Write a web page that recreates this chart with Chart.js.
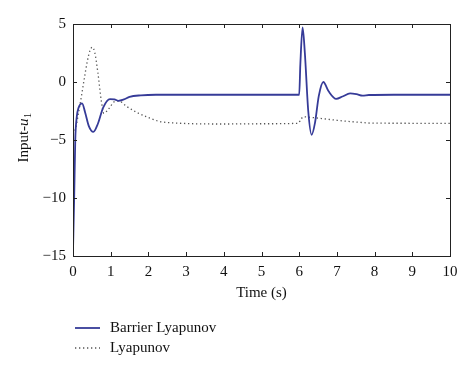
<!DOCTYPE html>
<html>
<head>
<meta charset="utf-8">
<script src="https://cdn.jsdelivr.net/npm/chart.js@4"></script>
<style>
  html, body { margin: 0; padding: 0; background: #fff; }
  #wrap { width: 474px; height: 374px; }
</style>
</head>
<body>
<div id="wrap"><canvas id="inputChart" width="474" height="374"></canvas></div>
<script>
// Barrier Lyapunov control input (solid)
const timeBarrier = [0, 0.03, 0.06, 0.1, 0.15, 0.24, 0.32, 0.42, 0.54, 0.66, 0.8, 0.98, 1.1, 1.2, 1.35, 1.5, 1.8, 2.2, 3, 4, 5, 6.0, 6.03, 6.09, 6.15, 6.24, 6.33, 6.42, 6.52, 6.64, 6.78, 6.98, 7.15, 7.35, 7.52, 7.68, 7.85, 8.5, 10];
const uBarrier = [-14.5, -10.2, -5, -3.0, -2.2, -1.85, -2.6, -3.8, -4.3, -3.6, -2.2, -1.47, -1.5, -1.62, -1.5, -1.28, -1.15, -1.1, -1.1, -1.1, -1.1, -1.1, 1.5, 4.7, 2.5, -2.5, -4.55, -3.5, -1.2, 0.0, -0.8, -1.45, -1.25, -0.98, -1.05, -1.18, -1.12, -1.1, -1.1];

// Lyapunov control input (dotted)
const timeLyap = [0, 0.07, 0.15, 0.22, 0.3, 0.38, 0.45, 0.51, 0.58, 0.66, 0.75, 0.82, 0.95, 1.1, 1.22, 1.42, 1.68, 1.95, 2.3, 2.8, 4, 5, 5.97, 6.05, 6.11, 6.3, 6.6, 7.0, 7.5, 8, 10];
const uLyap = [-4.5, -4.0, -2.6, -1.3, 0.3, 1.8, 2.7, 3.0, 2.5, 0.8, -1.6, -2.7, -2.3, -1.7, -1.65, -2.1, -2.6, -3.0, -3.4, -3.55, -3.62, -3.6, -3.56, -3.2, -3.0, -3.05, -3.15, -3.3, -3.45, -3.55, -3.56];

const xTicks = [0, 1, 2, 3, 4, 5, 6, 7, 8, 9, 10];
const yTicks = [-15, -10, -5, 0, 5];
const seriesNames = ['Barrier Lyapunov', 'Lyapunov'];

const serif = '"Liberation Serif", "DejaVu Serif", serif';
const fontSize = 15;
const blue = '#363b98';
const grey = '#555555';

const toPoints = (xs, ys) => xs.map((x, i) => ({ x: x, y: ys[i] }));

// box round the plot with MATLAB style inward ticks, legend and y title
const framePlugin = {
  id: 'frame',
  afterDraw(chart) {
    const ctx = chart.ctx;
    const a = chart.chartArea;
    const sx = chart.scales.x, sy = chart.scales.y;
    ctx.save();
    ctx.strokeStyle = '#222';
    ctx.lineWidth = 1;
    ctx.strokeRect(a.left + 0.5, a.top + 0.5, a.right - a.left, a.bottom - a.top);
    ctx.beginPath();
    xTicks.forEach(v => {
      const px = Math.round(sx.getPixelForValue(v)) + 0.5;
      ctx.moveTo(px, a.bottom); ctx.lineTo(px, a.bottom - 4);
      ctx.moveTo(px, a.top); ctx.lineTo(px, a.top + 4);
    });
    yTicks.forEach(v => {
      const py = Math.round(sy.getPixelForValue(v)) + 0.5;
      ctx.moveTo(a.left, py); ctx.lineTo(a.left + 4, py);
      ctx.moveTo(a.right, py); ctx.lineTo(a.right - 4, py);
    });
    ctx.stroke();

    // y axis title: Input-u1
    ctx.translate(24, 138);
    ctx.rotate(-Math.PI / 2);
    ctx.fillStyle = '#111';
    ctx.textBaseline = 'middle';
    ctx.font = fontSize + 'px ' + serif;
    const w1 = ctx.measureText('Input-').width;
    ctx.font = 'italic ' + fontSize + 'px ' + serif;
    const w2 = ctx.measureText('u').width;
    ctx.font = '10px ' + serif;
    const w3 = ctx.measureText('1').width;
    let x0 = -(w1 + w2 + w3) / 2;
    ctx.font = fontSize + 'px ' + serif;
    ctx.fillText('Input-', x0, 0);
    ctx.font = 'italic ' + fontSize + 'px ' + serif;
    ctx.fillText('u', x0 + w1, 0);
    ctx.font = '10px ' + serif;
    ctx.fillText('1', x0 + w1 + w2 + 0.5, 4);
    ctx.restore();

    // legend below the plot
    ctx.save();
    ctx.font = fontSize + 'px ' + serif;
    ctx.fillStyle = '#111';
    ctx.textBaseline = 'middle';
    chart.data.datasets.forEach((ds, i) => {
      const y = 328 + i * 20;
      ctx.beginPath();
      ctx.strokeStyle = ds.borderColor;
      ctx.lineWidth = ds.borderWidth;
      ctx.setLineDash(ds.borderDash || []);
      ctx.moveTo(75, y); ctx.lineTo(100, y);
      ctx.stroke();
      ctx.fillText(ds.label, 110, y);
    });
    ctx.restore();
  }
};

new Chart(document.getElementById('inputChart'), {
  type: 'line',
  data: {
    datasets: [{
      label: seriesNames[0],
      data: toPoints(timeBarrier, uBarrier),
      borderColor: blue,
      borderWidth: 1.8,
      pointRadius: 0,
      cubicInterpolationMode: 'monotone',
      fill: false
    }, {
      label: seriesNames[1],
      data: toPoints(timeLyap, uLyap),
      borderColor: grey,
      borderWidth: 1.3,
      borderDash: [1.3, 2.7],
      pointRadius: 0,
      cubicInterpolationMode: 'monotone',
      fill: false
    }]
  },
  options: {
    responsive: false,
    animation: false,
    layout: { padding: { top: 24, right: 24, bottom: 68, left: 0 } },
    plugins: { legend: { display: false }, tooltip: { enabled: false } },
    scales: {
      x: {
        type: 'linear',
        min: 0, max: 10,
        afterBuildTicks: s => { s.ticks = xTicks.map(v => ({ value: v })); },
        afterFit: s => { s.height = 50; },
        grid: { display: false, drawTicks: false },
        border: { display: false },
        ticks: { color: '#111', font: { family: serif, size: fontSize }, padding: 7, maxRotation: 0 },
        title: { display: true, text: 'Time (s)', color: '#111', font: { family: serif, size: fontSize }, padding: { top: 1 } }
      },
      y: {
        min: -15, max: 5,
        afterBuildTicks: s => { s.ticks = yTicks.map(v => ({ value: v })); },
        afterFit: s => { s.width = 73; },
        grid: { display: false, drawTicks: false },
        border: { display: false },
        ticks: {
          color: '#111', font: { family: serif, size: fontSize }, padding: 7,
          callback: v => String(v).replace('-', '\u2212')
        }
      }
    }
  },
  plugins: [framePlugin]
});
</script>
</body>
</html>
